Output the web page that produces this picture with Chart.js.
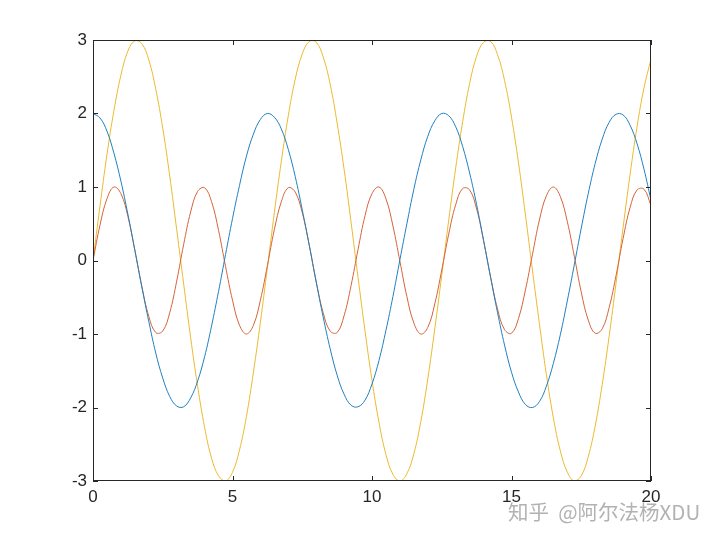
<!DOCTYPE html>
<html lang="en">
<head>
    <meta charset="UTF-8">
    <title>Three waves</title>
    <style>
        html, body { margin: 0; padding: 0; background: #fff; }
        #wrap { width: 720px; height: 540px; }
    </style>
</head>
<body>
    <div id="wrap"><canvas id="chart"></canvas></div>

    <script src="https://cdn.jsdelivr.net/npm/chart.js"></script>
    <script>
        var xs = [0, 0.25, 0.5, 0.75, 1, 1.25, 1.5, 1.75, 2, 2.25, 2.5, 2.75, 3, 3.25, 3.5, 3.75,
            4, 4.25, 4.5, 4.75, 5, 5.25, 5.5, 5.75, 6, 6.25, 6.5, 6.75, 7, 7.25, 7.5, 7.75,
            8, 8.25, 8.5, 8.75, 9, 9.25, 9.5, 9.75, 10, 10.25, 10.5, 10.75, 11, 11.25, 11.5, 11.75,
            12, 12.25, 12.5, 12.75, 13, 13.25, 13.5, 13.75, 14, 14.25, 14.5, 14.75, 15, 15.25, 15.5, 15.75,
            16, 16.25, 16.5, 16.75, 17, 17.25, 17.5, 17.75, 18, 18.25, 18.5, 18.75, 19, 19.25, 19.5, 19.75, 20];

        // blue curve (amplitude 2)
        var blue = [2.00, 1.94, 1.76, 1.46, 1.08, 0.63, 0.14, -0.36, -0.83, -1.26, -1.60, -1.85, -1.98, -1.99, -1.87, -1.64,
            -1.31, -0.89, -0.42, 0.08, 0.57, 1.02, 1.42, 1.72, 1.92, 2.00, 1.95, 1.79, 1.51, 1.14, 0.69, 0.21,
            -0.29, -0.77, -1.20, -1.56, -1.82, -1.97, -1.99, -1.90, -1.68, -1.36, -0.95, -0.49, 0.01, 0.50, 0.97, 1.37,
            1.69, 1.90, 2.00, 1.97, 1.82, 1.55, 1.19, 0.76, 0.27, -0.23, -0.71, -1.15, -1.52, -1.79, -1.96, -2.00,
            -1.92, -1.71, -1.40, -1.01, -0.55, -0.06, 0.44, 0.91, 1.32, 1.65, 1.88, 1.99, 1.98, 1.84, 1.59, 1.24, 0.82];

        // orange curve (amplitude 1, fast)
        var orange = [0.00, 0.48, 0.84, 1.00, 0.91, 0.60, 0.14, -0.35, -0.76, -0.98, -0.96, -0.71, -0.28, 0.22, 0.66, 0.94,
            0.99, 0.80, 0.41, -0.08, -0.54, -0.88, -1.00, -0.88, -0.54, -0.07, 0.42, 0.80, 0.99, 0.93, 0.65, 0.21,
            -0.29, -0.71, -0.96, -0.98, -0.75, -0.34, 0.15, 0.61, 0.91, 1.00, 0.84, 0.47, -0.01, -0.49, -0.85, -1.00,
            -0.91, -0.59, -0.13, 0.36, 0.76, 0.98, 0.96, 0.70, 0.27, -0.22, -0.66, -0.94, -0.99, -0.79, -0.40, 0.08,
            0.55, 0.88, 1.00, 0.87, 0.53, 0.06, -0.43, -0.81, -0.99, -0.93, -0.64, -0.20, 0.30, 0.72, 0.96, 0.97, 0.75];

        // yellow curve (amplitude 3)
        var yellow = [0.00, 0.74, 1.44, 2.04, 2.52, 2.85, 2.99, 2.95, 2.73, 2.33, 1.80, 1.15, 0.42, -0.32, -1.05, -1.71,
            -2.27, -2.69, -2.93, -3.00, -2.88, -2.58, -2.12, -1.52, -0.84, -0.10, 0.65, 1.35, 1.97, 2.47, 2.81, 2.98,
            2.97, 2.77, 2.40, 1.87, 1.24, 0.52, -0.23, -0.96, -1.63, -2.20, -2.64, -2.91, -3.00, -2.90, -2.63, -2.19,
            -1.61, -0.93, -0.20, 0.55, 1.26, 1.89, 2.41, 2.78, 2.97, 2.98, 2.80, 2.45, 1.95, 1.33, 0.62, -0.13,
            -0.86, -1.55, -2.14, -2.59, -2.88, -3.00, -2.93, -2.67, -2.25, -1.69, -1.03, -0.30, 0.45, 1.17, 1.82, 2.35, 2.74];

        var xTicks = [0, 5, 10, 15, 20];
        var yTicks = [-3, -2, -1, 0, 1, 2, 3];
        var watermark = '知乎  @阿尔法杨XDU';

        var axisColor = '#262626';

        function pts(ys) {
            return xs.map(function (x, i) { return { x: x, y: ys[i] }; });
        }

        function line(ys, color) {
            return {
                data: pts(ys),
                borderColor: color,
                borderWidth: 1,
                pointRadius: 0,
                fill: false,
                tension: 0.4
            };
        }

        // box round the plot, inward ticks on all four sides, and the watermark
        var boxPlugin = {
            id: 'box',
            afterDraw: function (chart) {
                var ctx = chart.ctx, a = chart.chartArea;
                var sx = chart.scales.x, sy = chart.scales.y;
                ctx.save();
                ctx.strokeStyle = axisColor;
                ctx.lineWidth = 1;
                ctx.strokeRect(a.left + 0.5, a.top + 0.5, a.right - a.left - 1, a.bottom - a.top - 1);
                ctx.beginPath();
                xTicks.forEach(function (v) {
                    var px = Math.round(sx.getPixelForValue(v)) + 0.5;
                    ctx.moveTo(px, a.bottom); ctx.lineTo(px, a.bottom - 5);
                    ctx.moveTo(px, a.top); ctx.lineTo(px, a.top + 5);
                });
                yTicks.forEach(function (v) {
                    var py = Math.round(sy.getPixelForValue(v)) + 0.5;
                    ctx.moveTo(a.left, py); ctx.lineTo(a.left + 5, py);
                    ctx.moveTo(a.right, py); ctx.lineTo(a.right - 5, py);
                });
                ctx.stroke();

                ctx.font = '20.5px "Noto Sans CJK SC"';
                ctx.textAlign = 'left';
                ctx.textBaseline = 'alphabetic';
                ctx.fillStyle = 'rgba(255,255,255,0.95)';
                ctx.fillText(watermark, 509, 521);
                ctx.fillStyle = 'rgba(165,165,165,0.85)';
                ctx.fillText(watermark, 508, 520);
                ctx.restore();
            }
        };

        var ctx = document.getElementById('chart').getContext('2d');
        var chart = new Chart(ctx, {
            type: 'line',
            data: {
                datasets: [
                    line(blue, '#1F80BF'),
                    line(orange, '#D5633A'),
                    line(yellow, '#EBBA2E')
                ]
            },
            options: {
                responsive: true,
                maintainAspectRatio: false,
                animation: false,
                layout: { padding: { left: 0, top: 40, right: 69, bottom: 0 } },
                plugins: {
                    legend: { display: false },
                    tooltip: { enabled: false }
                },
                scales: {
                    x: {
                        type: 'linear',
                        min: 0,
                        max: 20,
                        afterBuildTicks: function (s) { s.ticks = xTicks.map(function (v) { return { value: v }; }); },
                        afterFit: function (s) { s.height = 59; },
                        grid: { display: false, drawTicks: false },
                        border: { display: false },
                        ticks: {
                            color: axisColor,
                            padding: 6,
                            maxRotation: 0,
                            font: { family: '"Liberation Sans", Arial, sans-serif', size: 17 }
                        }
                    },
                    y: {
                        min: -3,
                        max: 3,
                        afterBuildTicks: function (s) { s.ticks = yTicks.map(function (v) { return { value: v }; }); },
                        afterFit: function (s) { s.width = 93; },
                        grid: { display: false, drawTicks: false },
                        border: { display: false },
                        ticks: {
                            color: axisColor,
                            padding: 6,
                            font: { family: '"Liberation Sans", Arial, sans-serif', size: 17 }
                        }
                    }
                }
            },
            plugins: [boxPlugin]
        });
    </script>
</body>
</html>
